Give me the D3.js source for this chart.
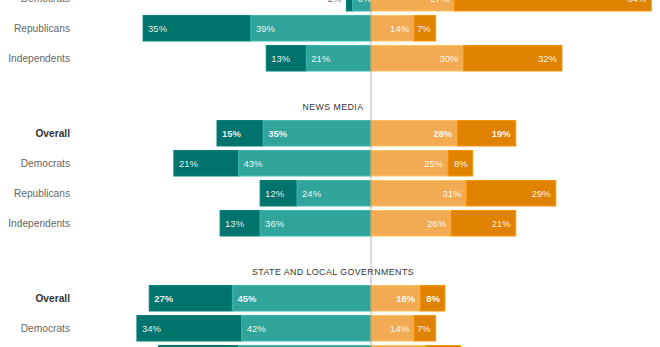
<!DOCTYPE html>
<html>
<head>
<meta charset="utf-8">
<script src="https://cdn.jsdelivr.net/npm/d3@7"></script>
<style>
  html, body { margin: 0; padding: 0; background: #fff; }
  svg { display: block; font-family: "Liberation Sans", Arial, Helvetica, sans-serif; }
</style>
</head>
<body>
<svg id="chart" width="660" height="347"></svg>
<script>
// ---- Data ----
const sectionTitles = [null, "NEWS MEDIA", "STATE AND LOCAL GOVERNMENTS"];
const sectionGroups = [
  ["Democrats", "Republicans", "Independents"],
  ["Overall", "Democrats", "Republicans", "Independents"],
  ["Overall", "Democrats", "Republicans"]
];
// left side (negative): strong, moderate ; right side (positive): moderate, strong
const leftStrong = [
  [2, 35, 13],
  [15, 21, 12, 13],
  [27, 34, 26]
];
const leftModerate = [
  [6, 39, 21],
  [35, 43, 24, 36],
  [45, 42, 43]
];
const rightModerate = [
  [27, 14, 30],
  [28, 25, 31, 26],
  [16, 14, 18]
];
const rightStrong = [
  [64, 7, 32],
  [19, 8, 29, 21],
  [8, 7, 11]
];

const colors = {
  leftStrong: "#00736c",
  leftModerate: "#31a49c",
  rightModerate: "#f2ab53",
  rightStrong: "#df8200"
};

// ---- Layout ----
const svg = d3.select("#chart");
const center = 371;
const pxPerPct = 3.08;
const x = d3.scaleLinear().domain([-100, 100]).range([center - 100 * pxPerPct, center + 100 * pxPerPct]);
// slot units: each row = 1 unit, each title = 1.5 units
const y = d3.scaleLinear().domain([0, 1]).range([-15, 15]);
const barH = 26.5;

// build rows
const rows = [];
const titles = [];
let unit = 0;
sectionGroups.forEach((groups, s) => {
  if (s > 0) {
    titles.push({ title: sectionTitles[s], unit: unit });
    unit += 1.5;
  }
  groups.forEach((g, i) => {
    rows.push({
      group: g, unit: unit, overall: g === "Overall",
      ls: leftStrong[s][i], lm: leftModerate[s][i],
      rm: rightModerate[s][i], rs: rightStrong[s][i]
    });
    unit += 1;
  });
});

// segments
const segs = [];
rows.forEach(r => {
  segs.push({ r, key: "leftStrong", x0: -(r.ls + r.lm), x1: -r.lm, v: r.ls, side: "L" });
  segs.push({ r, key: "leftModerate", x0: -r.lm, x1: 0, v: r.lm, side: "L" });
  segs.push({ r, key: "rightModerate", x0: 0, x1: r.rm, v: r.rm, side: "R" });
  segs.push({ r, key: "rightStrong", x0: r.rm, x1: r.rm + r.rs, v: r.rs, side: "R" });
});

// bars
svg.append("g").selectAll("rect").data(segs).join("rect")
  .attr("x", d => x(d.x0))
  .attr("width", d => x(d.x1) - x(d.x0))
  .attr("y", d => y(d.r.unit) + 0.5)
  .attr("height", barH - 1)
  .attr("fill", d => colors[d.key])
  .attr("stroke", d => d3.color(colors[d.key]).brighter(0.35))
  .attr("stroke-width", 1);

// center line
svg.append("line")
  .attr("x1", center).attr("x2", center)
  .attr("y1", 0).attr("y2", 347)
  .attr("stroke", "#888").attr("stroke-opacity", 0.6).attr("stroke-width", 1);

// value labels
svg.append("g").selectAll("text").data(segs).join("text")
  .attr("x", d => {
    if (d.side === "L") {
      if (d.v < 4) return x(d.x0) - 5;
      return x(d.x0) + 5;
    }
    return x(d.x1) - 5;
  })
  .attr("y", d => y(d.r.unit) + barH / 2)
  .attr("dy", "0.35em")
  .attr("text-anchor", d => (d.side === "L" && d.v >= 4) ? "start" : "end")
  .attr("font-size", "9.5px")
  .attr("font-weight", d => d.r.overall ? "bold" : "normal")
  .attr("fill", d => d.v < 4 ? "#777" : "#fff")
  .attr("fill-opacity", d => d.v < 4 ? 1 : 0.92)
  .text(d => d.v + "%");

// row labels
svg.append("g").selectAll("text").data(rows).join("text")
  .attr("x", 70)
  .attr("y", d => y(d.unit) + barH / 2)
  .attr("dy", "0.35em")
  .attr("text-anchor", "end")
  .attr("font-size", "10.2px")
  .attr("font-weight", d => d.overall ? "bold" : "normal")
  .attr("fill", d => d.overall ? "#333" : "#666")
  .text(d => d.group);

// section titles
svg.append("g").selectAll("text").data(titles).join("text")
  .attr("x", 333)
  .attr("y", d => y(d.unit + 1.5) - 10.5)
  .attr("text-anchor", "middle")
  .attr("font-size", "8.8px")
  .attr("letter-spacing", "0.45px")
  .attr("fill", "#333")
  .text(d => d.title);
</script>
</body>
</html>
